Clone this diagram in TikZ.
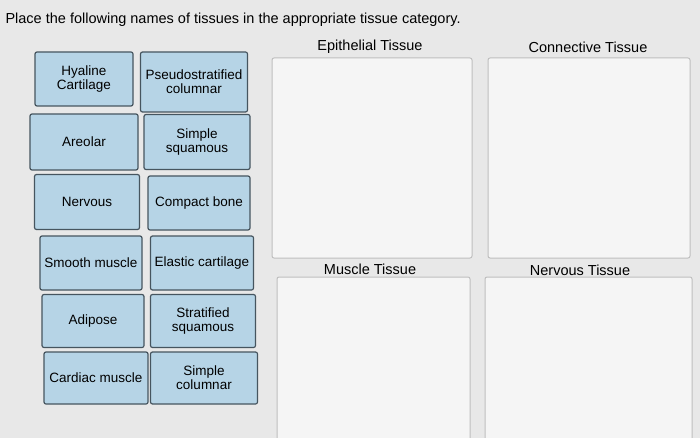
\documentclass[tikz,border=0pt]{standalone}
\usepackage{fontspec}
\setmainfont{Liberation Sans}
\definecolor{tilefill}{RGB}{182,212,230}
\definecolor{tileedge}{RGB}{70,85,95}
\begin{document}
\begin{tikzpicture}[x=1pt,y=-1pt,
  tile/.style={draw=tileedge,line width=1.2pt,fill=tilefill,rounded corners=2pt,align=center,font=\fontsize{13.5}{14}\selectfont,inner sep=0pt},
  drop/.style={draw=black!25,line width=1pt,fill=black!4,rounded corners=2pt},
  hdr/.style={font=\fontsize{14.5}{16}\selectfont}]
\fill[black!9] (0,0) rectangle (700,438);
\useasboundingbox (0,0) rectangle (700,438);
\node[anchor=west,font=\fontsize{14.5}{16}\selectfont] (title) at (2,20) {Place the following names of tissues in the appropriate tissue category.};
\node[hdr] (h1) at (370,47) {Epithelial Tissue};
\node[hdr] (h2) at (588,47) {Connective Tissue};
\node[hdr] (h3) at (370,269) {Muscle Tissue};
\node[hdr] (h4) at (580,270) {Nervous Tissue};
\draw[drop] (272,58) rectangle (472,258);
\draw[drop] (488,58) rectangle (690,258);
\draw[drop] (277,277) rectangle (470,445);
\draw[drop] (485,277) rectangle (692,445);
\newcommand{\tile}[6]{\node[tile,minimum width=#4pt,minimum height=#5pt] (#1) at (#2,#3) {#6};}
\tile{a1}{84}{79}{98}{54}{Hyaline\\Cartilage}
\tile{a2}{84}{142}{108}{56}{Areolar}
\tile{a3}{87}{202}{105}{55}{Nervous}
\tile{a4}{91}{263}{102}{54}{Smooth muscle}
\tile{a5}{93}{321}{102}{53}{Adipose}
\tile{a6}{96}{378}{104}{52}{Cardiac muscle}
\tile{b1}{194}{82}{107}{60}{Pseudostratified\\columnar}
\tile{b2}{197}{142}{106}{55}{Simple\\squamous}
\tile{b3}{199}{203}{102}{54}{Compact bone}
\tile{b4}{202}{263}{103}{54}{Elastic cartilage}
\tile{b5}{203}{321}{105}{53}{Stratified\\squamous}
\tile{b6}{204}{378}{107}{52}{Simple\\columnar}
\end{tikzpicture}
\end{document}
